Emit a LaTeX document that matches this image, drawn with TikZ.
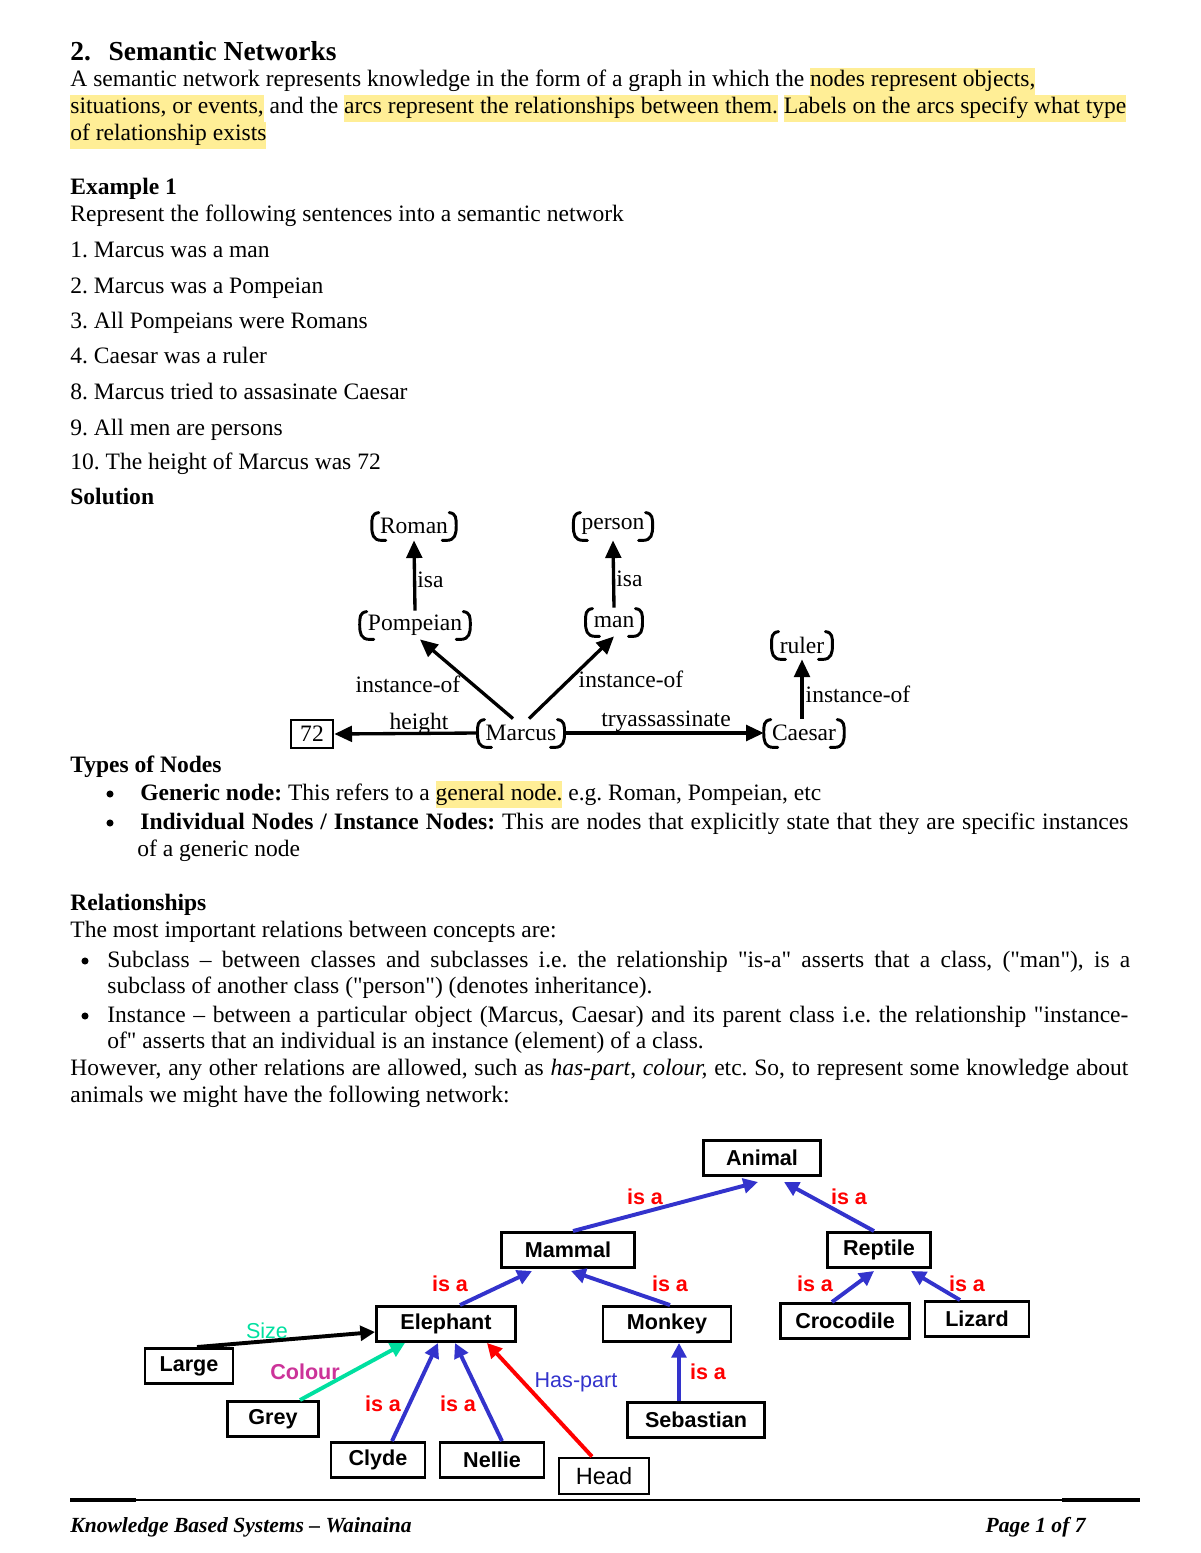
\documentclass[tikz,border=0pt]{standalone}
\usepackage{fontspec}
\setmainfont{Liberation Serif}
\newfontfamily\dsans{Liberation Sans}
\usetikzlibrary{arrows.meta,calc}
\definecolor{hlyel}{RGB}{255,238,150}
\definecolor{isablue}{RGB}{51,51,204}
\definecolor{isared}{RGB}{255,0,0}
\definecolor{tealg}{RGB}{0,224,160}
\definecolor{magc}{RGB}{204,51,153}
\newlength\pxu \setlength\pxu{0.51pt}
\newcommand\qq{\textquotedbl}
\newcommand\hly[1]{{\setlength\fboxsep{0pt}\colorbox{hlyel}{\strut #1}}}
\newcommand\brk[1]{%
\draw[brkl] ($(#1.north west)+(7,1)$) .. controls ($(#1.north west)+(0,2)$) and ($(#1.west)+(0,-8)$) .. (#1.west) .. controls ($(#1.west)+(0,8)$) and ($(#1.south west)+(1,0)$) .. ($(#1.south west)+(10,0)$) -- ($(#1.south west)+(14,0)$);
\draw[brkl] ($(#1.north east)+(-7,1)$) .. controls ($(#1.north east)+(0,2)$) and ($(#1.east)+(0,-8)$) .. (#1.east) .. controls ($(#1.east)+(0,8)$) and ($(#1.south east)+(-1,0)$) .. ($(#1.south east)+(-10,0)$) -- ($(#1.south east)+(-14,0)$);}
\frenchspacing
\begin{document}
\begin{tikzpicture}[x=0.51pt,y=-0.51pt,
  txt/.style={anchor=base west,inner sep=0pt,font=\fontsize{12}{14}\selectfont},
  hd/.style={txt,font=\fontsize{12}{14}\selectfont\bfseries},
  sn/.style={font=\fontsize{12}{14}\selectfont,inner xsep=4pt,inner ysep=0pt,minimum height=14.3pt},
  slab/.style={font=\fontsize{12}{14}\selectfont,inner sep=0pt},
  brkl/.style={line width=1.5pt,line cap=round},
  a1/.style={line width=1.7pt,-{Triangle[length=9pt,width=8pt]}},
  bx/.style={draw,line width=1.5pt,font=\dsans\bfseries\fontsize{11}{13}\selectfont,inner sep=0pt,minimum height=35\pxu},
  ba/.style={line width=2pt,draw=isablue,-{Triangle[length=7.5pt,width=7.5pt]}},
  isa/.style={font=\dsans\bfseries\fontsize{11}{13}\selectfont,text=isared,inner sep=0pt},
  bul/.style={circle,fill=black,inner sep=0pt,minimum size=3.6pt}]
\useasboundingbox (0,0) rectangle (1200,1553);
\fill[white] (0,0) rectangle (1200,1553);
% ---------- heading and intro ----------
\node[txt,font=\fontsize{14}{16}\selectfont\bfseries] (h1) at (70,61) {2.\hspace{9pt}Semantic Networks};
\node[txt] (p1) at (70,87) {A semantic network represents knowledge in the form of a graph in which the \hly{nodes represent objects,}};
\node[txt] (p2) at (70,114) {\hly{situations, or events,} and the \hly{arcs represent the relationships between them.} \hly{Labels on the arcs specify what type}};
\node[txt] (p3) at (70,141) {\hly{of relationship exists}};
\node[hd] (ex1) at (70,195) {Example 1};
\node[txt] (ex2) at (70,222) {Represent the following sentences into a semantic network};
\node[txt] (l1) at (70,257) {1. Marcus was a man};
\node[txt] (l2) at (70,293) {2. Marcus was a Pompeian};
\node[txt] (l3) at (70,328) {3. All Pompeians were Romans};
\node[txt] (l4) at (70,363) {4. Caesar was a ruler};
\node[txt] (l8) at (70,399) {8. Marcus tried to assasinate Caesar};
\node[txt] (l9) at (70,435) {9. All men are persons};
\node[txt] (l10) at (70,469) {10. The height of Marcus was 72};
\node[hd] (sol) at (70,504) {Solution};
% ---------- diagram 1 ----------
\node[sn] (roman) at (414,526) {Roman};
\node[sn] (person) at (613,526) {person};
\node[sn] (pompeian) at (415,625) {Pompeian};
\node[sn] (man) at (614,622) {man};
\node[sn] (ruler) at (802,645) {ruler};
\node[sn] (marcus) at (521,733) {Marcus};
\node[sn] (caesar) at (804,733) {Caesar};
\node[draw,line width=1.4pt,font=\fontsize{12}{14}\selectfont,inner sep=0pt,minimum width=42\pxu,minimum height=28\pxu] (n72) at (312,734) {72};
\brk{roman}\brk{person}\brk{pompeian}\brk{man}\brk{ruler}\brk{marcus}\brk{caesar}
\draw[a1] (pompeian.north) -- (roman.south);
\draw[a1] (man.north) -- (person.south);
\draw[a1] ($(marcus.north)+(-8,0)$) -- ($(pompeian.south)+(5,0)$);
\draw[a1] ($(marcus.north)+(8,0)$) -- (man.south);
\draw[a1] (ruler.south |- caesar.north) -- (ruler.south);
\draw[a1] (marcus.west) -- (n72.east);
\draw[a1] (marcus.east) -- (caesar.west);
\node[slab,anchor=west] (lisa1) at (417,580) {isa};
\node[slab,anchor=west] (lisa2) at (616,579) {isa};
\node[slab] (linst1) at (408,684) {instance-of};
\node[slab] (linst2) at (631,679) {instance-of};
\node[slab] (linst3) at (858,694) {instance-of};
\node[slab] (lheight) at (419,724) {height};
\node[slab] (ltry) at (666,721) {tryassassinate};
% ---------- types of nodes ----------
\node[hd] (ton) at (70,772) {Types of Nodes};
\node[bul] (b1) at (110,794) {};
\node[txt] (t1) at (140,800) {\textbf{Generic node:} This refers to a \hly{general node.} e.g. Roman, Pompeian, etc};
\node[bul] (b2) at (110,823) {};
\node[txt] (t2) at (140,829) {\makebox[988\pxu][s]{\textbf{Individual Nodes / Instance Nodes:} This are nodes that explicitly state that they are specific instances}};
\node[txt] (t3) at (137,856) {of a generic node};
% ---------- relationships ----------
\node[hd] (rel) at (70,910) {Relationships};
\node[txt] (r1) at (70,937) {The most important relations between concepts are:};
\node[bul] (rb1) at (85,961) {};
\node[txt] (r2) at (107,967) {\makebox[1023\pxu][s]{Subclass – between classes and subclasses i.e. the relationship \qq is-a\qq\ asserts that a class, (\qq man\qq), is a}};
\node[txt] (r3) at (107,993) {subclass of another class (\qq person\qq) (denotes inheritance).};
\node[bul] (rb2) at (85,1016) {};
\node[txt] (r4) at (107,1022) {\makebox[1021\pxu][s]{Instance – between a particular object (Marcus, Caesar) and its parent class i.e. the relationship \qq instance-}};
\node[txt] (r5) at (107,1048) {of\qq\ asserts that an individual is an instance (element) of a class.};
\node[txt] (r6) at (70,1075) {\makebox[1058\pxu][s]{However, any other relations are allowed, such as \textit{has-part}, \textit{colour,} etc. So, to represent some knowledge about}};
\node[txt] (r7) at (70,1102) {animals we might have the following network:};
% ---------- diagram 2 ----------
\node[bx,minimum width=117\pxu] (animal) at (762,1158) {Animal};
\node[bx,minimum width=133\pxu] (mammal) at (568,1250) {Mammal};
\node[bx,minimum width=103\pxu] (reptile) at (879,1250) {Reptile};
\node[bx,minimum width=139\pxu] (elephant) at (446,1324) {Elephant};
\node[bx,minimum width=128\pxu] (monkey) at (667,1324) {Monkey};
\node[bx,minimum width=129\pxu] (croc) at (845,1321) {Crocodile};
\node[bx,minimum width=104\pxu] (lizard) at (977,1319) {Lizard};
\node[bx,minimum width=88\pxu] (large) at (189,1366) {Large};
\node[bx,minimum width=91\pxu] (grey) at (273,1419) {Grey};
\node[bx,minimum width=94\pxu] (clyde) at (378,1460) {Clyde};
\node[bx,minimum width=104\pxu] (nellie) at (492,1460) {Nellie};
\node[bx,minimum width=90\pxu,minimum height=36\pxu,font=\dsans\fontsize{12}{14}\selectfont] (head) at (604,1476) {Head};
\node[bx,minimum width=137\pxu] (sebastian) at (696,1420) {Sebastian};
\draw[ba] ($(mammal.north)+(5,0)$) -- ($(animal.south)+(-4,5)$);
\draw[ba] ($(reptile.north)+(-5,0)$) -- ($(animal.south)+(22,5)$);
\draw[ba] ($(elephant.north)+(14,0)$) -- ($(mammal.south)+(-36,2)$);
\draw[ba] ($(monkey.north)+(3,0)$) -- ($(mammal.south)+(3,2)$);
\draw[ba] ($(croc.north)+(-13,0)$) -- ($(reptile.south)+(-5,2)$);
\draw[ba] ($(lizard.north)+(-17,0)$) -- ($(reptile.south)+(32,2)$);
\draw[ba] ($(sebastian.north)+(-17,0)$) -- ($(monkey.south)+(12,0)$);
\draw[ba] ($(clyde.north)+(14,0)$) -- ($(elephant.south)+(-8,0)$);
\draw[ba] ($(nellie.north)+(10,0)$) -- ($(elephant.south)+(9,0)$);
\draw[ba,draw=red] ($(head.north)+(-12,0)$) -- ($(elephant.south)+(41,0)$);
\draw[ba,draw=tealg] ($(grey.north)+(27,0)$) -- ($(elephant.south)+(-41,0)$);
\draw[ba,draw=black] ($(large.north)+(8,0)$) -- ($(elephant.west)+(0,8)$);
\node[isa] (i1) at (645,1197) {is a};
\node[isa] (i2) at (849,1197) {is a};
\node[isa] (i3) at (450,1284) {is a};
\node[isa] (i4) at (670,1284) {is a};
\node[isa] (i5) at (815,1284) {is a};
\node[isa] (i6) at (967,1284) {is a};
\node[isa] (i7) at (708,1372) {is a};
\node[isa] (i8) at (383,1404) {is a};
\node[isa] (i9) at (458,1404) {is a};
\node[font=\dsans\fontsize{11}{13}\selectfont,text=isablue,inner sep=0pt] (hp) at (576,1382) {Has-part};
\node[font=\dsans\fontsize{11}{13}\selectfont,text=tealg,inner sep=0pt] (sz) at (267,1331) {Size};
\node[font=\dsans\bfseries\fontsize{11}{13}\selectfont,text=magc,inner sep=0pt] (col) at (305,1372) {Colour};
% ---------- footer ----------
\draw[line width=0.8pt] (70,1500) -- (1140,1500);
\draw[line width=2.2pt] (70,1500) -- (136,1500);
\draw[line width=2.2pt] (1062,1500) -- (1140,1500);
\node[txt,font=\fontsize{11}{13}\selectfont\bfseries\itshape] (f1) at (70,1532) {Knowledge Based Systems – Wainaina};
\node[anchor=base east,inner sep=0pt,font=\fontsize{11}{13}\selectfont\bfseries\itshape] (f2) at (1086,1532) {Page 1 of 7};
\end{tikzpicture}
\end{document}
